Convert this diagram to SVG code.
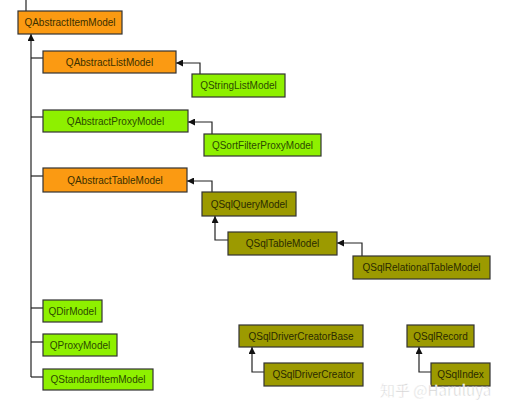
<svg xmlns="http://www.w3.org/2000/svg" width="507" height="412" viewBox="0 0 507 412">
<style>
.n rect{stroke:#333;stroke-width:1.2}
.o rect{fill:#fb9a12}
.g rect{fill:#8ef000}
.v rect{fill:#9c9a00}
text{font-family:"Liberation Sans",Arial,sans-serif;font-size:10px;text-anchor:middle;fill:#3a3000}
.g text{fill:#2c4a00}
.v text{fill:#2a2a00}
#edges path{fill:none;stroke:#222;stroke-width:1.2}
.wm{font-family:"Noto Sans CJK SC","Liberation Sans",sans-serif;font-size:15px;text-anchor:start;fill:#d0d0d0;stroke:#fff;stroke-width:0.5}
</style>
<defs>
<marker id="a" viewBox="0 0 8 8" refX="8" refY="4" markerWidth="7" markerHeight="7" orient="auto" markerUnits="userSpaceOnUse">
<path d="M0,0 L8,4 L0,8 z" fill="#111"/>
</marker>
</defs>
<rect width="507" height="412" fill="#fff"/>
<g id="edges">
<path d="M26,0 V11"/>
<path d="M31,377 V34" marker-end="url(#a)"/>
<path d="M31,58 H43"/>
<path d="M31,117 H43"/>
<path d="M31,176 H43"/>
<path d="M31,308 H43"/>
<path d="M31,342 H43"/>
<path d="M31,377 H43"/>
<path d="M200,74 V63 H176" marker-end="url(#a)"/>
<path d="M212,134 V122 H188" marker-end="url(#a)"/>
<path d="M212,192 V181 H187" marker-end="url(#a)"/>
<path d="M228,240 H215 V216" marker-end="url(#a)"/>
<path d="M362,256 V243 H337" marker-end="url(#a)"/>
<path d="M264,372 H252 V347" marker-end="url(#a)"/>
<path d="M431,372 H419 V347" marker-end="url(#a)"/>
</g>
<g id="QAbstractItemModel" class="n o"><rect x="18" y="11" width="104" height="23"/><text x="70" y="26">QAbstractItemModel</text></g>
<g id="QAbstractListModel" class="n o"><rect x="43" y="51" width="133" height="22"/><text x="109.5" y="65.5">QAbstractListModel</text></g>
<g id="QStringListModel" class="n g"><rect x="192" y="74" width="93" height="23"/><text x="238.5" y="89">QStringListModel</text></g>
<g id="QAbstractProxyModel" class="n g"><rect x="43" y="110" width="145" height="22"/><text x="115.5" y="124.5">QAbstractProxyModel</text></g>
<g id="QSortFilterProxyModel" class="n g"><rect x="204" y="134" width="117" height="22"/><text x="262.5" y="148.5">QSortFilterProxyModel</text></g>
<g id="QAbstractTableModel" class="n o"><rect x="43" y="168" width="144" height="24"/><text x="115" y="183.5">QAbstractTableModel</text></g>
<g id="QSqlQueryModel" class="n v"><rect x="202" y="192" width="94" height="24"/><text x="249" y="207.5">QSqlQueryModel</text></g>
<g id="QSqlTableModel" class="n v"><rect x="228" y="232" width="109" height="23"/><text x="282.5" y="247">QSqlTableModel</text></g>
<g id="QSqlRelationalTableModel" class="n v"><rect x="353" y="256" width="137" height="23"/><text x="421.5" y="271">QSqlRelationalTableModel</text></g>
<g id="QDirModel" class="n g"><rect x="43" y="300" width="59" height="22"/><text x="72.5" y="314.5">QDirModel</text></g>
<g id="QProxyModel" class="n g"><rect x="43" y="334" width="74" height="22"/><text x="80" y="348.5">QProxyModel</text></g>
<g id="QStandardItemModel" class="n g"><rect x="43" y="369" width="110" height="21"/><text x="98" y="383">QStandardItemModel</text></g>
<g id="QSqlDriverCreatorBase" class="n v"><rect x="239" y="325" width="124" height="22"/><text x="301" y="339.5">QSqlDriverCreatorBase</text></g>
<g id="QSqlDriverCreator" class="n v"><rect x="264" y="363" width="99" height="23"/><text x="313.5" y="378">QSqlDriverCreator</text></g>
<g id="QSqlRecord" class="n v"><rect x="407" y="325" width="67" height="22"/><text x="440.5" y="339.5">QSqlRecord</text></g>
<g id="QSqlIndex" class="n v"><rect x="431" y="363" width="59" height="23"/><text x="460.5" y="378">QSqlIndex</text></g>
<text class="wm" x="380" y="396">知乎 @Haruluya</text>
</svg>
